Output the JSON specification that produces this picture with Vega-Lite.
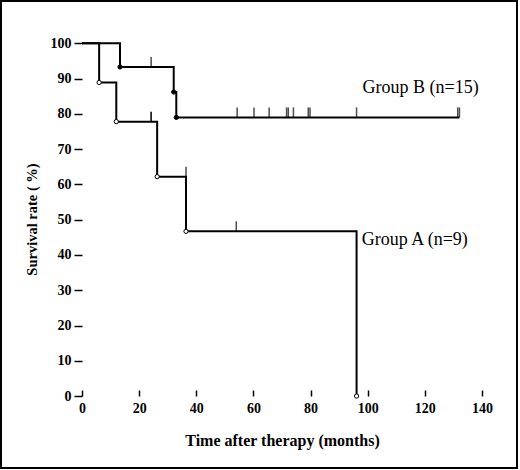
{
  "$schema": "https://vega.github.io/schema/vega-lite/v6.json",
  "autosize": "none",
  "width": 516,
  "height": 467,
  "padding": {"left": 1, "top": 1, "right": 3, "bottom": 2},
  "background": "white",
  "datasets": {
    "curve": [
      {"group": "A", "time": 0, "surv": 100},
      {"group": "A", "time": 6, "surv": 88.9},
      {"group": "A", "time": 12, "surv": 77.8},
      {"group": "A", "time": 26.3, "surv": 62.2},
      {"group": "A", "time": 36.4, "surv": 46.7},
      {"group": "A", "time": 96.1, "surv": 0},
      {"group": "B", "time": 0, "surv": 100},
      {"group": "B", "time": 13.3, "surv": 93.3},
      {"group": "B", "time": 32.1, "surv": 86.2},
      {"group": "B", "time": 33, "surv": 79},
      {"group": "B", "time": 132.1, "surv": 79}
    ],
    "deaths": [
      {"group": "A", "time": 6, "surv": 88.9},
      {"group": "A", "time": 12, "surv": 77.8},
      {"group": "A", "time": 26.3, "surv": 62.2},
      {"group": "A", "time": 36.4, "surv": 46.7},
      {"group": "A", "time": 96.1, "surv": 0},
      {"group": "B", "time": 13.3, "surv": 93.3},
      {"group": "B", "time": 32.1, "surv": 86.2},
      {"group": "B", "time": 33, "surv": 79}
    ],
    "censored": [
      {"group": "A", "time": 24.2, "surv": 77.8},
      {"group": "A", "time": 24.2, "surv": 77.8},
      {"group": "A", "time": 36.4, "surv": 62.2},
      {"group": "A", "time": 54, "surv": 46.7},
      {"group": "B", "time": 24.2, "surv": 93.3},
      {"group": "B", "time": 54.3, "surv": 79},
      {"group": "B", "time": 60.2, "surv": 79},
      {"group": "B", "time": 65.5, "surv": 79},
      {"group": "B", "time": 71.6, "surv": 79},
      {"group": "B", "time": 72.2, "surv": 79},
      {"group": "B", "time": 74, "surv": 79},
      {"group": "B", "time": 79.2, "surv": 79},
      {"group": "B", "time": 79.8, "surv": 79},
      {"group": "B", "time": 96.1, "surv": 79},
      {"group": "B", "time": 131.5, "surv": 79},
      {"group": "B", "time": 132.1, "surv": 79}
    ],
    "labels": [
      {"label": "Group B (n=15)", "time": 98.2, "surv": 87.2},
      {"label": "Group A (n=9)", "time": 97.9, "surv": 44.2}
    ]
  },
  "config": {
    "view": {"stroke": "black", "strokeWidth": 2},
    "font": "Liberation Serif",
    "axis": {
      "grid": false,
      "domain": false,
      "tickColor": "black",
      "tickWidth": 1.5,
      "labelColor": "black",
      "labelFont": "Liberation Serif",
      "labelFontWeight": "bold",
      "labelFontSize": 14,
      "titleColor": "black",
      "titleFont": "Liberation Serif",
      "titleFontWeight": "bold",
      "titleFontSize": 16,
      "labelOverlap": false,
      "labelFlush": false
    }
  },
  "layer": [
    {
      "data": {"name": "curve"},
      "mark": {"type": "line", "interpolate": "step-after", "color": "black", "strokeWidth": 2},
      "encoding": {
        "x": {
          "field": "time",
          "type": "quantitative",
          "scale": {"domain": [-28.35, 152.25], "nice": false, "zero": false},
          "axis": {
            "values": [0, 20, 40, 60, 80, 100, 120, 140],
            "offset": -72,
            "tickSize": -6,
            "labelPadding": 11,
            "title": "Time after therapy (months)",
            "titleX": 281,
            "titleY": 44,
            "titleBaseline": "middle"
          }
        },
        "y": {
          "field": "surv",
          "type": "quantitative",
          "scale": {"domain": [-20.4, 112], "nice": false, "zero": false},
          "axis": {
            "values": [0, 10, 20, 30, 40, 50, 60, 70, 80, 90, 100],
            "offset": -81,
            "tickSize": 8,
            "labelPadding": 3,
            "title": "Survival rate ( %)",
            "titleFontSize": 14.5,
            "titleX": -50,
            "titleY": 218,
            "titleBaseline": "middle",
            "titleAlign": "center"
          }
        },
        "detail": {"field": "group"}
      }
    },
    {
      "mark": {"type": "rule", "color": "black", "strokeWidth": 1.8},
      "encoding": {
        "x": {"datum": 0},
        "x2": {"datum": 140},
        "y": {"datum": 0}
      }
    },
    {
      "mark": {"type": "rule", "color": "black", "strokeWidth": 1.8},
      "encoding": {
        "x": {"datum": 0},
        "y": {"datum": 0},
        "y2": {"datum": 105}
      }
    },
    {
      "data": {"name": "censored"},
      "mark": {"type": "tick", "orient": "vertical", "color": "black", "size": 10, "thickness": 1.5, "yOffset": -5},
      "encoding": {
        "x": {"field": "time", "type": "quantitative"},
        "y": {"field": "surv", "type": "quantitative"}
      }
    },
    {
      "data": {"name": "deaths"},
      "transform": [{"filter": "datum.group == 'A'"}],
      "mark": {"type": "point", "shape": "circle", "filled": true, "fill": "white", "stroke": "black", "strokeWidth": 1, "size": 18, "opacity": 1},
      "encoding": {
        "x": {"field": "time", "type": "quantitative"},
        "y": {"field": "surv", "type": "quantitative"}
      }
    },
    {
      "data": {"name": "deaths"},
      "transform": [{"filter": "datum.group == 'B'"}],
      "mark": {"type": "point", "shape": "circle", "filled": true, "fill": "black", "stroke": "black", "strokeWidth": 1, "size": 18, "opacity": 1},
      "encoding": {
        "x": {"field": "time", "type": "quantitative"},
        "y": {"field": "surv", "type": "quantitative"}
      }
    },
    {
      "data": {"name": "labels"},
      "mark": {"type": "text", "align": "left", "baseline": "middle", "font": "Liberation Serif", "fontSize": 18, "color": "black"},
      "encoding": {
        "x": {"field": "time", "type": "quantitative"},
        "y": {"field": "surv", "type": "quantitative"},
        "text": {"field": "label"}
      }
    }
  ]
}
